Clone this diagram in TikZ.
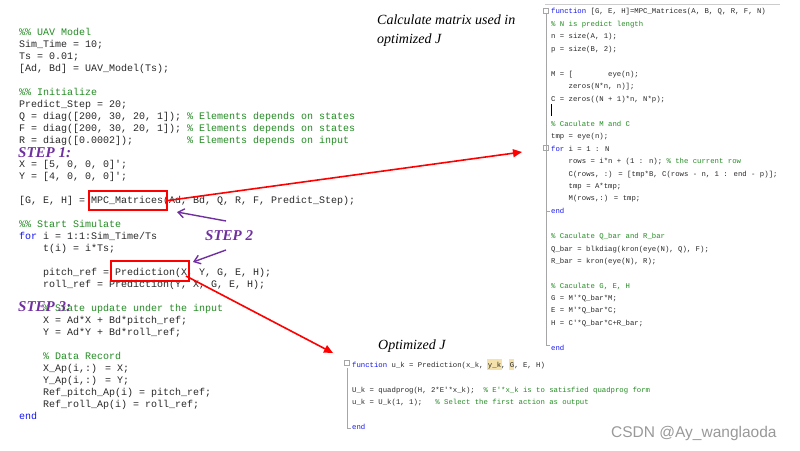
\documentclass[tikz,border=0pt]{standalone}
\usepackage{fontspec}
\setmainfont{Liberation Serif}
\newfontfamily\cmono{Liberation Mono}[Ligatures=TeXOff]
\newfontfamily\csans{Liberation Sans}
\usetikzlibrary{arrows.meta}
\definecolor{cgreen}{RGB}{34,139,34}
\definecolor{cblue}{RGB}{20,20,240}
\definecolor{ctext}{RGB}{40,40,40}
\definecolor{cpurple}{RGB}{112,48,160}
\definecolor{hl}{RGB}{245,225,170}
\newcommand\cm[1]{\textcolor{cgreen}{#1}}
\newcommand\kw[1]{\textcolor{cblue}{#1}}
\newcommand\lc[2]{\node[lcode] (l#1) at (19,-#1) {#2};}
\newcommand\rc[3]{\node[rcode] (r#2) at (#1,-#2) {#3};}
\begin{document}
\begin{tikzpicture}[x=1pt,y=1pt,
  lcode/.style={anchor=base west,inner sep=0pt,font=\cmono\fontsize{10}{12}\selectfont,text=ctext},
  rcode/.style={anchor=base west,inner sep=0pt,font=\cmono\fontsize{7.3}{9}\selectfont,text=ctext},
  steplbl/.style={anchor=base west,inner sep=0pt,font=\bfseries\itshape\fontsize{15}{17}\selectfont,text=cpurple},
  caption/.style={anchor=base west,inner sep=0pt,font=\itshape\fontsize{14}{17}\selectfont,text=black},
  redbox/.style={draw=red,line width=2pt},
  redarrow/.style={draw=red,line width=1.6pt,-{Triangle[length=9pt,width=8pt]}},
  purplearrow/.style={draw=cpurple,line width=1.4pt,-{Straight Barb[length=6pt,width=9pt]}},
  gutter/.style={draw=gray!70,line width=0.5pt}]
\useasboundingbox (0,0) rectangle (800,-450);
% left code
\lc{35}{\cm{\%\% UAV Model}}
\lc{47}{Sim\_Time = 10;}
\lc{59}{Ts = 0.01;}
\lc{71}{[Ad, Bd] = UAV\_Model(Ts);}
\lc{95}{\cm{\%\% Initialize}}
\lc{107}{Predict\_Step = 20;}
\lc{119}{Q = diag([200, 30, 20, 1]); \cm{\% Elements depends on states}}
\lc{131}{F = diag([200, 30, 20, 1]); \cm{\% Elements depends on states}}
\lc{143}{R = diag([0.0002]);~~~~~~~~~\cm{\% Elements depends on input}}
\lc{167}{X = [5, 0, 0, 0]';}
\lc{179}{Y = [4, 0, 0, 0]';}
\lc{203}{[G, E, H] = MPC\_Matrices(Ad, Bd, Q, R, F, Predict\_Step);}
\lc{227}{\cm{\%\% Start Simulate}}
\lc{239}{\kw{for} i = 1:1:Sim\_Time/Ts}
\lc{251}{~~~~t(i) = i*Ts;}
\lc{275}{~~~~pitch\_ref = Prediction(X, Y, G, E, H);}
\lc{287}{~~~~roll\_ref = Prediction(Y, X, G, E, H);}
\lc{311}{~~~~\cm{\% State update under the input}}
\lc{323}{~~~~X = Ad*X + Bd*pitch\_ref;}
\lc{335}{~~~~Y = Ad*Y + Bd*roll\_ref;}
\lc{359}{~~~~\cm{\% Data Record}}
\lc{371}{~~~~X\_Ap(i,:) = X;}
\lc{383}{~~~~Y\_Ap(i,:) = Y;}
\lc{395}{~~~~Ref\_pitch\_Ap(i) = pitch\_ref;}
\lc{407}{~~~~Ref\_roll\_Ap(i) = roll\_ref;}
\lc{419}{\kw{end}}
\node[steplbl] (s1) at (18,-157) {STEP 1:};
\node[steplbl] (s2) at (205,-240) {STEP 2};
\node[steplbl] (s3) at (18,-311) {STEP 3:};
% boxes
\node[redbox,inner sep=0pt,minimum width=78pt,minimum height=19pt,anchor=north west] (b1) at (88,-190) {};
\node[redbox,inner sep=0pt,minimum width=78pt,minimum height=20pt,anchor=north west] (b2) at (110,-260) {};
% captions
\node[caption] (c1) at (377,-24) {Calculate matrix used in};
\node[caption] (c2) at (377,-43) {optimized J};
\node[caption] (c3) at (378,-349) {Optimized J};
% right top panel
\draw[gray!40] (545,-4) -- (780,-4);
\draw[gutter] (546,-14) -- (546,-345) -- (550,-345);
\draw[gutter] (543,-8) rectangle (548,-13);
\draw[gutter] (543,-145) rectangle (548,-150);
\draw[gutter] (546,-211) -- (550,-211);
\rc{551}{13.5}{\kw{function} [G, E, H]=MPC\_Matrices(A, B, Q, R, F, N)}
\rc{551}{26}{\cm{\% N is predict length}}
\rc{551}{38}{n = size(A, 1);}
\rc{551}{51}{p = size(B, 2);}
\rc{551}{76}{M = [~~~~~~~~eye(n);}
\rc{551}{88.5}{~~~~zeros(N*n, n)];}
\rc{551}{101}{C = zeros((N + 1)*n, N*p);}
\draw[black,line width=0.8pt] (551,-104) -- (551,-116);
\rc{551}{126}{\cm{\% Caculate M and C}}
\rc{551}{138}{tmp = eye(n);}
\rc{551}{151}{\kw{for} i = 1 : N}
\rc{551}{163.5}{~~~~rows = i*n + (1 : n); \cm{\% the current row}}
\rc{551}{176}{~~~~C(rows, :) = [tmp*B, C(rows - n, 1 : end - p)];}
\rc{551}{188}{~~~~tmp = A*tmp;}
\rc{551}{200.5}{~~~~M(rows,:) = tmp;}
\rc{551}{213.5}{\kw{end}}
\rc{551}{238.5}{\cm{\% Caculate Q\_bar and R\_bar}}
\rc{551}{251}{Q\_bar = blkdiag(kron(eye(N), Q), F);}
\rc{551}{263}{R\_bar = kron(eye(N), R);}
\rc{551}{288}{\cm{\% Caculate G, E, H}}
\rc{551}{300}{G = M'*Q\_bar*M;}
\rc{551}{312.5}{E = M'*Q\_bar*C;}
\rc{551}{325}{H = C'*Q\_bar*C+R\_bar;}
\rc{551}{350}{\kw{end}}
% bottom panel
\fill[hl] (487,-359) rectangle (502,-370);
\fill[hl] (509,-359) rectangle (514,-370);
\draw[gutter] (347,-368) -- (347,-428) -- (351,-428);
\draw[gutter] (344,-360) rectangle (349,-365);
\rc{352}{367}{\kw{function} u\_k = Prediction(x\_k, y\_k, G, E, H)}
\rc{352}{392}{U\_k = quadprog(H, 2*E'*x\_k);~~\cm{\% E'*x\_k is to satisfied quadprog form}}
\rc{352}{404}{u\_k = U\_k(1, 1);~~~\cm{\% Select the first action as output}}
\rc{352}{429}{\kw{end}}
\node[anchor=base west,inner sep=0pt,font=\csans\fontsize{15.5}{18}\selectfont,text=gray!80] (wm) at (611,-437) {CSDN @Ay\_wanglaoda};
% arrows
\coordinate (t1) at (522,-152);
\coordinate (t2) at (333,-353);
\draw[redarrow] (b1.east) -- (t1);
\draw[redarrow] (b2.south east) ++(-4,6) -- (t2);
\draw[purplearrow] (226,-221) -- (177,-212);
\draw[purplearrow] (226,-250) -- (193,-262);
\end{tikzpicture}
\end{document}
